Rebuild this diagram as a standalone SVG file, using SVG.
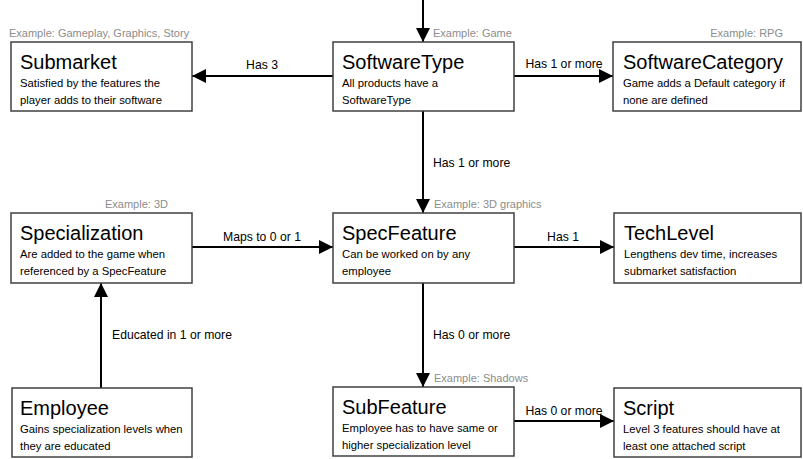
<svg xmlns="http://www.w3.org/2000/svg" width="803" height="459" viewBox="0 0 803 459">
<style>
.box{fill:#fff;stroke:#404040;stroke-width:1.5}
.title{font-family:"Liberation Sans",Arial,sans-serif;font-size:20px;fill:#000}
.desc{font-family:"Liberation Sans",Arial,sans-serif;font-size:11.3px;fill:#000}
.ex{font-family:"Liberation Sans",Arial,sans-serif;font-size:11px;fill:#8c8c8c}
.lbl{font-family:"Liberation Sans",Arial,sans-serif;font-size:12.2px;fill:#000}
.edge{stroke:#000;stroke-width:2;fill:none;marker-end:url(#arr)}
</style>
<defs>
<marker id="arr" markerUnits="userSpaceOnUse" markerWidth="14" markerHeight="14" viewBox="0 0 14 14" refX="14" refY="7" orient="auto">
<path d="M0,0 L14,7 L0,14 z" fill="#000"/>
</marker>
</defs>
<rect width="803" height="459" fill="#fff"/>
<g id="connectors">
<line class="edge" x1="423" y1="0" x2="423" y2="42"/>
<line class="edge" x1="333" y1="76" x2="192" y2="76"/>
<line class="edge" x1="514" y1="76" x2="613" y2="76"/>
<line class="edge" x1="423" y1="111" x2="423" y2="213"/>
<line class="edge" x1="192" y1="247" x2="333" y2="247"/>
<line class="edge" x1="514" y1="247" x2="614" y2="247"/>
<line class="edge" x1="423" y1="283" x2="423" y2="387"/>
<line class="edge" x1="101" y1="388" x2="101" y2="283"/>
<line class="edge" x1="514" y1="421" x2="614" y2="421"/>
<text class="lbl" x="262" y="69" text-anchor="middle">Has 3</text>
<text class="lbl" x="564" y="68" text-anchor="middle">Has 1 or more</text>
<text class="lbl" x="433" y="167">Has 1 or more</text>
<text class="lbl" x="262" y="241" text-anchor="middle">Maps to 0 or 1</text>
<text class="lbl" x="563" y="241" text-anchor="middle">Has 1</text>
<text class="lbl" x="112" y="339">Educated in 1 or more</text>
<text class="lbl" x="433" y="339">Has 0 or more</text>
<text class="lbl" x="564" y="415" text-anchor="middle">Has 0 or more</text>
</g>
<g id="submarket">
<text class="ex" x="9" y="37">Example: Gameplay, Graphics, Story</text>
<rect class="box" x="11" y="42" width="181" height="69"/>
<text class="title" x="20" y="69">Submarket</text>
<text class="desc" x="20" y="87">Satisfied by the features the</text>
<text class="desc" x="20" y="104">player adds to their software</text>
</g>
<g id="softwaretype">
<text class="ex" x="433" y="37">Example: Game</text>
<rect class="box" x="333" y="42" width="181" height="69"/>
<text class="title" x="342" y="69">SoftwareType</text>
<text class="desc" x="342" y="87">All products have a</text>
<text class="desc" x="342" y="104">SoftwareType</text>
</g>
<g id="softwarecategory">
<text class="ex" x="783" y="37" text-anchor="end">Example: RPG</text>
<rect class="box" x="613" y="42" width="188" height="69"/>
<text class="title" x="623" y="69">SoftwareCategory</text>
<text class="desc" x="623" y="87">Game adds a Default category if</text>
<text class="desc" x="623" y="104">none are defined</text>
</g>
<g id="specialization">
<text class="ex" x="105" y="208">Example: 3D</text>
<rect class="box" x="11" y="213" width="181" height="70"/>
<text class="title" x="20" y="240">Specialization</text>
<text class="desc" x="20" y="258">Are added to the game when</text>
<text class="desc" x="20" y="275">referenced by a SpecFeature</text>
</g>
<g id="specfeature">
<text class="ex" x="434" y="208">Example: 3D graphics</text>
<rect class="box" x="333" y="213" width="181" height="70"/>
<text class="title" x="342" y="240">SpecFeature</text>
<text class="desc" x="342" y="258">Can be worked on by any</text>
<text class="desc" x="342" y="275">employee</text>
</g>
<g id="techlevel">
<rect class="box" x="614" y="213" width="187" height="70"/>
<text class="title" x="624" y="240">TechLevel</text>
<text class="desc" x="624" y="258">Lengthens dev time, increases</text>
<text class="desc" x="624" y="275">submarket satisfaction</text>
</g>
<g id="employee">
<rect class="box" x="12" y="388" width="180" height="69"/>
<text class="title" x="20" y="415">Employee</text>
<text class="desc" x="20" y="433">Gains specialization levels when</text>
<text class="desc" x="20" y="450">they are educated</text>
</g>
<g id="subfeature">
<text class="ex" x="434" y="382">Example: Shadows</text>
<rect class="box" x="333" y="387" width="181" height="69"/>
<text class="title" x="342" y="414">SubFeature</text>
<text class="desc" x="342" y="432">Employee has to have same or</text>
<text class="desc" x="342" y="449">higher specialization level</text>
</g>
<g id="script">
<rect class="box" x="614" y="388" width="187" height="69"/>
<text class="title" x="623" y="415">Script</text>
<text class="desc" x="623" y="433">Level 3 features should have at</text>
<text class="desc" x="623" y="450">least one attached script</text>
</g>
</svg>
